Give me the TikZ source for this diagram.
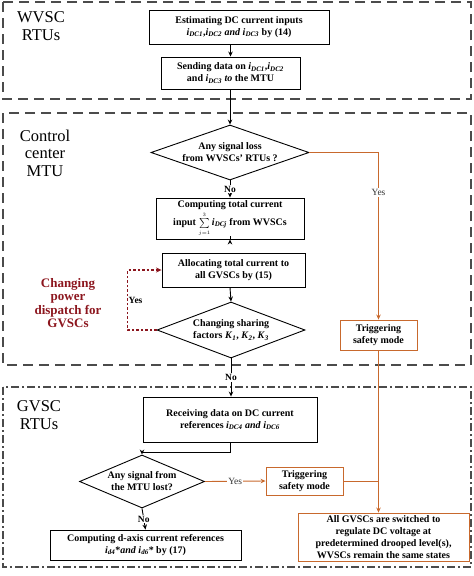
\documentclass[tikz,border=0pt]{standalone}
\usepackage{fontspec}
\setmainfont{Liberation Serif}
\usetikzlibrary{shapes.geometric,arrows.meta}
\definecolor{org}{RGB}{200,105,45}
\definecolor{dred}{RGB}{140,22,30}
\definecolor{pan}{RGB}{75,75,75}
\newcommand\cur[1]{\textit{i}\textsubscript{\textit{#1}}}
\newcommand\kk[1]{\textit{K}\textsubscript{\textit{#1}}}
\begin{document}
\begin{tikzpicture}[x=1pt,y=-1pt,
  txt/.style={font=\bfseries\fontsize{10}{12}\selectfont, align=center},
  box/.style={draw, line width=0.9pt, rectangle, inner sep=0pt, txt},
  obox/.style={box, draw=org},
  dia/.style={draw, diamond, inner sep=0pt, line width=0.9pt},
  arr/.style={line width=0.9pt, -{Stealth[length=5pt,width=4.5pt]}},
  oarr/.style={arr, color=org},
  oline/.style={line width=0.9pt, color=org},
  rarr/.style={line width=1.1pt, color=dred, dash pattern=on 2.5pt off 2pt, -{Stealth[length=5.5pt,width=5pt]}},
  lab/.style={fill=white, inner sep=1pt, text=black, font=\bfseries\fontsize{9.5}{10}\selectfont},
  ylab/.style={fill=white, inner sep=1pt, text=black!80, font=\fontsize{9.5}{10}\selectfont},
  pan/.style={draw=pan, line width=1.5pt, dash pattern=on 10pt off 6pt},
  pandd/.style={draw=pan, line width=1.5pt, dash pattern=on 8pt off 3pt on 2pt off 3pt},
  plabel/.style={font=\fontsize{16.5}{17.5}\selectfont, align=center}
]
\useasboundingbox (0,0) rectangle (474,576);
% panels
\draw[pan] (3,2) rectangle (471,99);
\draw[pan] (3,113) rectangle (471,365);
\draw[pandd] (3,387) rectangle (471,567);
\node[plabel] (pl1) at (41,26) {WVSC\\RTUs};
\node[plabel] (pl2) at (45,153) {Control\\center\\MTU};
\node[plabel] (pl3) at (39,415) {GVSC\\RTUs};
% nodes
\node[box, minimum width=180pt, minimum height=34pt] (b1) at (239,27) {Estimating DC current inputs\\\cur{DC1},\cur{DC2} \textit{and} \cur{DC3} by (14)};
\node[box, minimum width=139pt, minimum height=32pt] (b2) at (230.5,73) {Sending data on \cur{DC1},\cur{DC2}\\and \cur{DC3} \textit{to} the MTU};
\node[dia, minimum width=158pt, minimum height=55pt] (d1) at (230,152.5) {};
\node[txt] (d1t) at (d1) {Any signal loss\\from WVSCs' RTUs ?};
\node[box, minimum width=148pt, minimum height=41pt] (b3) at (230,218.5) {Computing total current\\[2pt]input {\fontsize{7}{7}\selectfont$\sum\limits_{j=1}^{3}$}\,\cur{DCj} from WVSCs};
\node[box, minimum width=143pt, minimum height=34pt] (b4) at (233.5,270) {Allocating total current to\\all GVSCs by (15)};
\node[dia, minimum width=148pt, minimum height=56pt] (d2) at (231,330) {};
\node[txt] (d2t) at (d2) {Changing sharing\\factors \kk{1}, \kk{2}, \kk{3}};
\node[obox, minimum width=77pt, minimum height=30pt] (t1) at (378.5,335) {Triggering\\safety mode};
\node[box, minimum width=174pt, minimum height=45pt] (b5) at (230,419.5) {Receiving data on DC current\\references \cur{DC4} \textit{and} \cur{DC6}};
\node[dia, minimum width=125pt, minimum height=53pt] (d3) at (142,481.5) {};
\node[txt] (d3t) at (d3) {Any signal from\\the MTU lost?};
\node[obox, minimum width=77pt, minimum height=28pt] (t2) at (304.5,481) {Triggering\\safety mode};
\node[obox, minimum width=171pt, minimum height=48pt] (f) at (383.5,537) {All GVSCs are switched to\\regulate DC voltage at\\predetermined drooped level(s),\\WVSCs remain the same states};
\node[box, minimum width=191pt, minimum height=30pt] (b6) at (145.5,545) {Computing d-axis current references\\\cur{d4}*\textit{and} \cur{d6}* by (17)};
\node[txt, text=dred, font=\bfseries\fontsize{13}{13.5}\selectfont] (red) at (68,303) {Changing\\power\\dispatch for\\GVSCs};
% connectors
\draw[arr] (b1.south -| b2.north) -- (b2.north);
\draw[arr] (b2.south -| d1.north) -- (d1.north);
\draw[arr] (d1.south) -- node[lab, pos=0.5] {No} (b3.north);
\draw[oarr] (d1.east) -| node[ylab, pos=0.62] {Yes} (t1.north);
\draw[arr] (b3.south -| d1.south) -- (b3.south -| d1.south |- b4.north);
\draw[arr] (b4.south -| d1.south) -- (d2.north);
\draw[rarr] (d2.west) -- ++(-29,0) |- node[lab, pos=0.25, xshift=8pt] {Yes} (b4.west);
\draw[arr] (d2.south) -- node[lab, pos=0.5] {No} (d2.south |- b5.north);
\draw[oarr] (t1.south) -- (t1.south |- f.north);
\draw[arr] (b5.south) -- ++(0,10) -| (d3.north);
\draw[oarr] (d3.east) -- node[ylab, pos=0.5] {Yes} (t2.west);
\draw[oline] (t2.east) -- (t2.east -| t1.south);
\draw[arr] (d3.south) -- node[lab, pos=0.5] {No} (b6.north);
\end{tikzpicture}
\end{document}
